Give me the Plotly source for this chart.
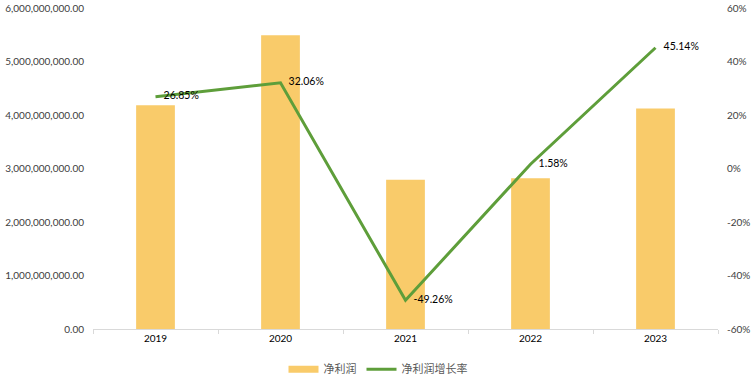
import plotly.graph_objects as go

years = ["2019", "2020", "2021", "2022", "2023"]
net_profit = [4.18e9, 5.49e9, 2.79e9, 2.82e9, 4.12e9]
growth = [26.85, 32.06, -49.26, 1.58, 45.14]
growth_labels = ["26.85%", "32.06%", "-49.26%", "1.58%", "45.14%"]
left_ticks = [0, 1e9, 2e9, 3e9, 4e9, 5e9, 6e9]
left_tick_text = ["0.00", "1,000,000,000.00", "2,000,000,000.00", "3,000,000,000.00",
                  "4,000,000,000.00", "5,000,000,000.00", "6,000,000,000.00"]
right_ticks = [-60, -40, -20, 0, 20, 40, 60]
right_tick_text = ["-60%", "-40%", "-20%", "0%", "20%", "40%", "60%"]

font_family = "Lato, 'Noto Sans CJK SC', sans-serif"
bar_color = "#F9CB6A"

fig = go.Figure()
fig.add_trace(go.Bar(
    x=years, y=net_profit, name="净利润",
    marker=dict(color=bar_color, line=dict(width=0)),
    width=0.31, yaxis="y", showlegend=False,
))
# legend-only swatch for the bars (wide rectangle like the reference)
fig.add_trace(go.Scatter(
    x=[None], y=[None], name="净利润", mode="lines",
    line=dict(color=bar_color, width=7), yaxis="y", showlegend=True,
))
fig.add_trace(go.Scatter(
    x=years, y=growth, name="净利润增长率", yaxis="y2",
    mode="lines+text", line=dict(color="#5E9E3A", width=3),
    text=growth_labels, texttemplate="   %{text}", textposition="middle right",
    textfont=dict(color="#000000", size=10.5, family=font_family),
    cliponaxis=False,
))

fig.update_layout(
    width=755, height=377,
    margin=dict(l=93, r=37, t=8, b=48, autoexpand=False),
    paper_bgcolor="white", plot_bgcolor="white",
    font=dict(family=font_family, size=10, color="#404040"),
    bargap=0.69,
    showlegend=True,
    legend=dict(orientation="h", x=0.456, xanchor="center", y=-0.08, yanchor="top",
                font=dict(size=11, color="#595959", family="'Noto Sans CJK SC', sans-serif"),
                itemwidth=30, tracegroupgap=0),
    xaxis=dict(
        type="category", showgrid=False, showline=True, linecolor="#D9D9D9", linewidth=1,
        ticks="outside", tickson="boundaries", ticklen=4, tickcolor="#D9D9D9",
        tickfont=dict(size=10, color="#000000"), range=[-0.5, 4.5], automargin=False,
    ),
    yaxis=dict(
        range=[0, 6e9], tickvals=left_ticks, ticktext=left_tick_text,
        showgrid=False, zeroline=False, showline=False, ticks="", ticklabelstandoff=8,
        automargin=False,
    ),
    yaxis2=dict(
        range=[-60, 60], tickvals=right_ticks, ticktext=right_tick_text,
        overlaying="y", side="right", showgrid=False, zeroline=False, showline=False,
        ticks="", ticklabelstandoff=8, automargin=False,
    ),
)

fig.write_html("out.html", config={"displayModeBar": False},
               post_script="document.body.style.margin='0';document.body.style.overflow='hidden';")
